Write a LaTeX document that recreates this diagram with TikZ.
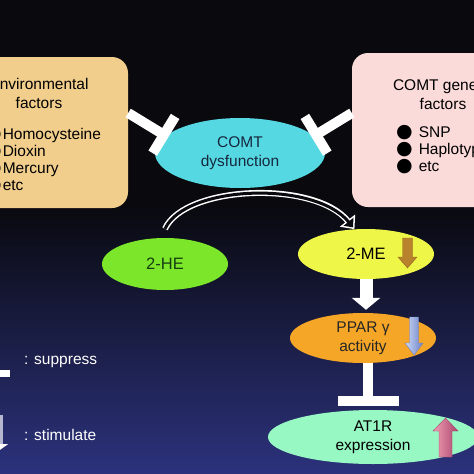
\documentclass[tikz,border=0pt]{standalone}
\usepackage{fontspec}
\setmainfont{Liberation Sans}
\newfontfamily\symfont{DejaVu Sans}
\usetikzlibrary{arrows.meta,shapes.geometric}

\definecolor{bgdark}{RGB}{9,9,14}
\definecolor{bgnavy}{RGB}{44,50,124}
\definecolor{envtan}{RGB}{242,206,140}
\definecolor{genpink}{RGB}{251,218,218}
\definecolor{comtcyan}{RGB}{86,216,226}
\definecolor{comtink}{RGB}{22,40,62}
\definecolor{hegreen}{RGB}{124,230,42}
\definecolor{heink}{RGB}{22,62,20}
\definecolor{meyellow}{RGB}{238,246,72}
\definecolor{pparorange}{RGB}{246,166,38}
\definecolor{atmint}{RGB}{152,248,196}
\definecolor{ochreside}{RGB}{185,130,45}
\definecolor{ochremid}{RGB}{226,176,82}
\definecolor{ochreline}{RGB}{150,100,30}
\definecolor{skyside}{RGB}{205,218,246}
\definecolor{skymid}{RGB}{168,188,234}
\definecolor{skydark}{RGB}{108,128,198}
\definecolor{roseside}{RGB}{242,158,182}
\definecolor{rosemid}{RGB}{228,118,150}
\definecolor{rosedark}{RGB}{168,70,108}

\newcommand\lbl{\fontsize{15.5}{19}\selectfont}
\newcommand\lst{\fontsize{15.5}{17}\selectfont}
\newcommand\bul{{\fontsize{19}{17}\symfont\char"25CF}}

\tikzset{
  factorbox/.style={rounded corners=16pt, inner sep=0pt},
  boxtext/.style={inner sep=0pt, text=black},
  molecule/.style={ellipse, inner sep=0pt, align=center, font=\lbl},
  inhib/.style={draw=white, line width=10pt, -{Bar[width=#1]}},
  promote/.style={draw=white, line width=13pt, -{Triangle[width=28pt,length=12pt]}},
  legendtext/.style={anchor=west, inner sep=0pt, text=white, font=\lbl}
}

\begin{document}
\begin{tikzpicture}[x=1pt,y=-1pt]
\useasboundingbox (0,0) rectangle (474,474);
\clip (0,0) rectangle (474,474);
\fill[bgdark] (0,0) rectangle (474,205);
\shade[top color=bgdark,bottom color=bgnavy] (0,204) rectangle (474,474);

\node[factorbox,fill=envtan,minimum width=188pt,minimum height=151pt] (env) at (34,132.5) {};
\node[boxtext,align=center,font=\lbl] (envtitle) at (39,93) {Environmental\\factors};
\node[boxtext,align=left,anchor=west,font=\lst] (envlist) at (-15,160) {\bul\hspace{1pt}Homocysteine\\\bul\hspace{1pt}Dioxin\\\bul\hspace{1pt}Mercury\\\bul\hspace{1pt}etc};

\node[factorbox,fill=genpink,minimum width=208pt,minimum height=154pt] (gen) at (456,130) {};
\node[boxtext,align=center,font=\lbl] (gentitle) at (443,94) {COMT genetic\\factors};
\node[boxtext,align=left,anchor=west,font=\lst] (genlist) at (396,150) {\bul\hspace{6pt}SNP\\\bul\hspace{6pt}Haplotype\\\bul\hspace{6pt}etc};

\node[molecule,fill=comtcyan,text=comtink,minimum width=170pt,minimum height=70pt] (comt) at (240,153) {COMT\\dysfunction};
\node[molecule,fill=hegreen,text=heink,minimum width=126pt,minimum height=52pt,font=\fontsize{16.5}{19}\selectfont] (he) at (165,264) {2-HE};
\node[molecule,fill=meyellow,text=black,minimum width=136pt,minimum height=50pt,font=\fontsize{16.5}{19}\selectfont] (me) at (366,254) {2-ME};
\node[molecule,fill=pparorange,text=black!85,minimum width=146pt,minimum height=50pt] (ppar) at (363,338) {PPAR γ\\activity};
\node[molecule,fill=atmint,text=black,minimum width=210pt,minimum height=54pt] (at1r) at (373,437) {AT1R\\expression};

\shade[left color=ochreside, middle color=ochremid, right color=ochreside, draw=ochreline, line width=0.4pt]
  (402.5,238) -- (412.5,238) -- (412.5,257) -- (417,257) -- (407.5,268) -- (398,257) -- (402.5,257) -- cycle;
\shade[left color=skyside, middle color=skymid, right color=skydark, draw=skydark, line width=0.4pt]
  (409.5,317) -- (418.5,317) -- (418.5,343) -- (423,343) -- (414,355) -- (405,343) -- (409.5,343) -- cycle;
\shade[left color=roseside, middle color=rosemid, right color=rosedark, draw=rosedark, line width=0.4pt]
  (439,457) -- (452,457) -- (452,431) -- (458,431) -- (445.5,418) -- (433,431) -- (439,431) -- cycle;

\draw[inhib=43pt,shorten >=-3pt] ([yshift=19.5pt]env.east) -- (comt.167);
\draw[inhib=43pt,shorten >=-3pt] ([yshift=17pt]gen.west) -- (comt.13);

\draw[white,line width=6pt,-{Triangle[width=19pt,length=11pt]}] ([yshift=9pt]he.north) .. controls (185,185) and (315,180) .. (me.115);
\draw[bgdark,line width=3pt,shorten >=2.3pt,-{Triangle[width=12.4pt,length=7.2pt]}] ([yshift=9pt]he.north) .. controls (185,185) and (315,180) .. (me.115);

\draw[promote,shorten >=3pt] (me.south) -- (me.south |- ppar.north);
\draw[inhib=61pt,shorten >=4pt] ([xshift=5pt]ppar.south) -- ([xshift=5pt]ppar.south |- at1r.north);

\coordinate (suptop) at (-12,340);
\coordinate (supend) at (-12,377);
\coordinate (stimtop) at (-3,415);
\coordinate (stimend) at (-3,452);
\draw[draw=white,line width=7pt,-{Bar[width=44pt]}] (suptop) -- (supend);
\draw[draw=white!65!bgnavy,line width=12pt,-{Triangle[width=22pt,length=8pt,color=white]}] (stimtop) -- (stimend);
\node[legendtext] (suplabel) at (24,362) {: suppress};
\node[legendtext] (stimlabel) at (24,435) {: stimulate};
\end{tikzpicture}
\end{document}
